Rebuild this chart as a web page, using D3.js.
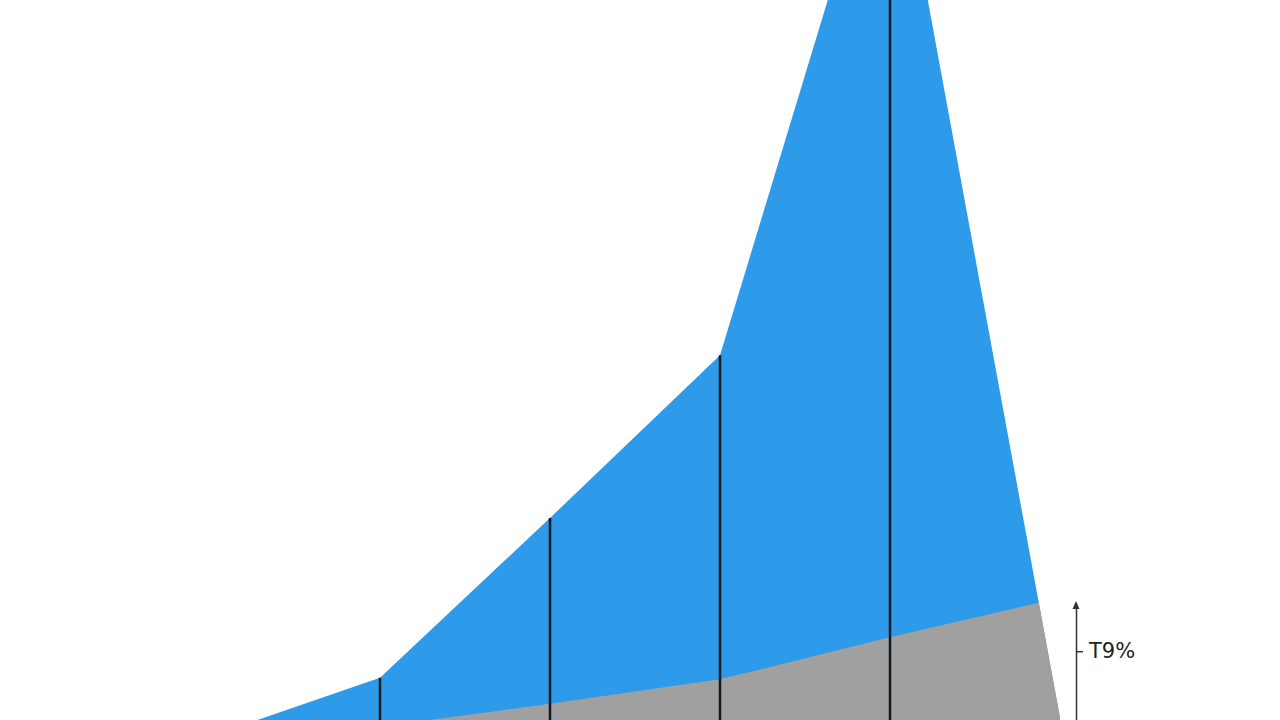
<!DOCTYPE html>
<html>
<head>
<meta charset="utf-8">
<script src="https://cdn.jsdelivr.net/npm/d3@7"></script>
<style>
  html, body { margin: 0; padding: 0; background: #ffffff; overflow: hidden; }
  svg { display: block; }
</style>
</head>
<body>
<svg id="chart" width="1280" height="720"></svg>
<script>
// ---- data ----
const categories = ["A", "B", "C", "D", "E", "F"];
const blueValues = [0.5, 8.4, 30.0, 52.0, 127.7, 3.0];
const grayValues = [0.0, 1.8, 4.9, 8.2, 13.9, 19.2];
const markerCategories = ["B", "C", "D", "E"];
const axisTickValues = [12];
const axisTickLabels = ["T9%"];
const axisTop = 18.5;

// ---- layout ----
const svg = d3.select("#chart");
const x = d3.scalePoint().domain(categories).range([210, 1060]);
const y = d3.scaleLinear().domain([0, 100]).range([740, 0]);

const blueColor = "#2E9BEA";
const grayColor = "#A0A0A0";

const rows = categories.map((c, i) => ({ c, b: blueValues[i], g: grayValues[i] }));

const blueArea = d3.area()
  .x(d => x(d.c))
  .y0(y(0))
  .y1(d => y(d.b));

const grayArea = d3.area()
  .x(d => x(d.c))
  .y0(y(0))
  .y1(d => y(d.g));

const defs = svg.append("defs");
defs.append("clipPath").attr("id", "blueClip")
  .append("path").attr("d", blueArea(rows));

svg.append("path")
  .attr("d", blueArea(rows))
  .attr("fill", blueColor);

svg.append("path")
  .attr("d", grayArea(rows))
  .attr("fill", grayColor)
  .attr("clip-path", "url(#blueClip)");

// vertical marker lines
svg.append("g").selectAll("line")
  .data(rows.filter(d => markerCategories.includes(d.c)))
  .join("line")
  .attr("x1", d => x(d.c))
  .attr("x2", d => x(d.c))
  .attr("y1", d => y(d.b))
  .attr("y2", y(0))
  .attr("stroke", "#111820")
  .attr("stroke-width", 2.5);

// right axis with arrow
const yAxisScale = d3.scaleLinear().domain([0, axisTop]).range([y(0), y(axisTop)]);
const axisG = svg.append("g")
  .attr("transform", "translate(1076,0)")
  .call(d3.axisRight(yAxisScale)
    .tickValues(axisTickValues)
    .tickFormat((d, i) => axisTickLabels[i])
    .tickSize(7)
    .tickSizeOuter(0)
    .tickPadding(6));
axisG.select(".domain").attr("stroke", "#333").attr("stroke-width", 1.5);
axisG.selectAll(".tick line").attr("stroke", "#333").attr("stroke-width", 1.5);
axisG.selectAll(".tick text")
  .attr("fill", "#222")
  .attr("font-family", "DejaVu Sans, sans-serif")
  .attr("font-size", 21);

const tipY = yAxisScale(axisTop);
axisG.append("path")
  .attr("d", `M0,${tipY - 2} L-3.5,${tipY + 6} L3.5,${tipY + 6} Z`)
  .attr("fill", "#333");
</script>
</body>
</html>
